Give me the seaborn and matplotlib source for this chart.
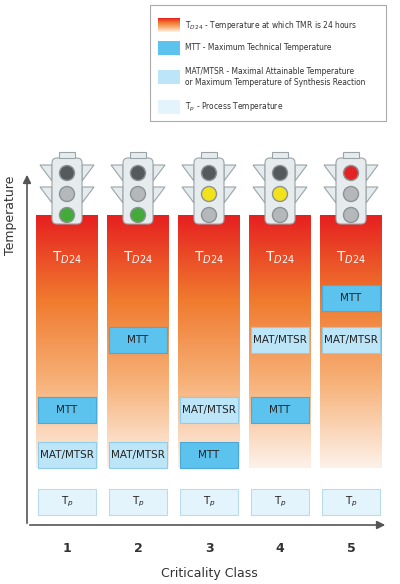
import numpy as np
import matplotlib.pyplot as plt
import seaborn as sns
from matplotlib.patches import FancyBboxPatch, Circle, Polygon, Rectangle
from matplotlib.colors import LinearSegmentedColormap

sns.set_style("white")
plt.rcParams['font.family'] = ['DejaVu Sans']

classes = ["1", "2", "3", "4", "5"]
# row level (0 = Tp row, higher = hotter) for each class
mtt_row = [2, 3, 1, 2, 4]
mat_row = [1, 1, 2, 3, 3]
lamp_on = ["green", "green", "yellow", "yellow", "red"]
legend_labels = [
    ("T$_{D24}$ - Temperature at which TMR is 24 hours", "grad"),
    ("MTT - Maximum Technical Temperature", "#5cc3ee"),
    ("MAT/MTSR - Maximal Attainable Temperature\nor Maximum Temperature of Synthesis Reaction", "#bde5f8"),
    ("T$_p$ - Process Temperature", "#e4f4fc"),
]

row_y = [502, 455, 410, 340, 298]
col_x = [67 + 71 * i for i in range(5)]

fig = plt.figure(figsize=(4, 5.84), dpi=100)
ax = fig.add_axes([0, 0, 1, 1])
ax.set_xlim(0, 400)
ax.set_ylim(584, 0)
ax.axis("off")

grad = np.linspace(0, 1, 256)[:, None]
cmap = LinearSegmentedColormap.from_list("t", ["#e62020", "#f07a2e", "#f7b27a", "#fdf2ea"])

for i, x in enumerate(col_x):
    ax.imshow(grad, cmap=cmap, aspect="auto", extent=(x - 31, x + 31, 468, 215), zorder=1)
    ax.text(x, 258, "T$_{D24}$", ha="center", va="center", color="white", fontsize=10)

def box(x, y, label, color, edge):
    ax.add_patch(Rectangle((x - 29, y - 13), 58, 26, facecolor=color, edgecolor=edge, lw=0.8, zorder=3))
    ax.text(x, y, label, ha="center", va="center", fontsize=7.5, color="#222222", zorder=4)

for i, x in enumerate(col_x):
    box(x, row_y[0], "T$_p$", "#e4f4fc", "#b8dcef")
    box(x, row_y[mtt_row[i]], "MTT", "#5cc3ee", "#4aa9d6")
    box(x, row_y[mat_row[i]], "MAT/MTSR", "#bde5f8", "#90cde9")

# traffic lights
lamp_colors = {"green": "#44aa3a", "yellow": "#f2e21a", "red": "#e32424"}
for i, x in enumerate(col_x):
    for side in (-1, 1):
        for yy in (165, 187):
            ax.add_patch(Polygon([(x + side * 15, yy), (x + side * 27, yy), (x + side * 15, yy + 16)],
                                 closed=True, facecolor="#e6ecee", edgecolor="#9aa4a8", lw=0.8, zorder=5))
    ax.add_patch(FancyBboxPatch((x - 15, 158), 30, 66, boxstyle="round,pad=0,rounding_size=5",
                                facecolor="#e6ecee", edgecolor="#9aa4a8", lw=0.8, zorder=5))
    ax.add_patch(Rectangle((x - 8, 152), 16, 6, facecolor="#e6ecee", edgecolor="#9aa4a8", lw=0.8, zorder=5))
    lamps = [("red", 173), ("yellow", 194), ("green", 215)]
    for k, (name, ly) in enumerate(lamps):
        if lamp_on[i] == name:
            fc = lamp_colors[name]
        elif k == 0:
            fc = "#555a5c"
        else:
            fc = "#b4b8ba"
        ax.add_patch(Circle((x, ly), 7.5, facecolor=fc, edgecolor="#8c9396", lw=1, zorder=6))

# axes arrows
ax.annotate("", xy=(388, 525), xytext=(27, 525),
            arrowprops=dict(arrowstyle="-|>", color="#555555", lw=1.2, mutation_scale=12))
ax.annotate("", xy=(27, 172), xytext=(27, 526),
            arrowprops=dict(arrowstyle="-|>", color="#555555", lw=1.2, mutation_scale=12))
for i, x in enumerate(col_x):
    ax.text(x, 549, classes[i], ha="center", va="center", fontsize=9, fontweight="bold", color="#333333")
ax.text(209, 573, "Criticality Class", ha="center", va="center", fontsize=9, color="#333333")
ax.text(11, 215, "Temperature", ha="center", va="center", rotation=90, fontsize=9, color="#333333")

# legend
ax.add_patch(Rectangle((150, 5), 236, 116, facecolor="white", edgecolor="#aaaaaa", lw=0.8, zorder=2))
ly_list = [25, 48, 77, 107]
for (lab, col), ly in zip(legend_labels, ly_list):
    if col == "grad":
        ax.imshow(grad, cmap=cmap, aspect="auto", extent=(158, 180, ly + 7, ly - 7), zorder=3)
    else:
        ax.add_patch(Rectangle((158, ly - 7), 22, 14, facecolor=col, edgecolor="none", zorder=3))
    ax.text(185, ly, lab, ha="left", va="center", fontsize=6, color="#333333", linespacing=1.3,
            fontstretch="condensed", zorder=4)

ax.set_xlim(0, 400)
ax.set_ylim(584, 0)
fig.savefig("out.png", dpi=100)
